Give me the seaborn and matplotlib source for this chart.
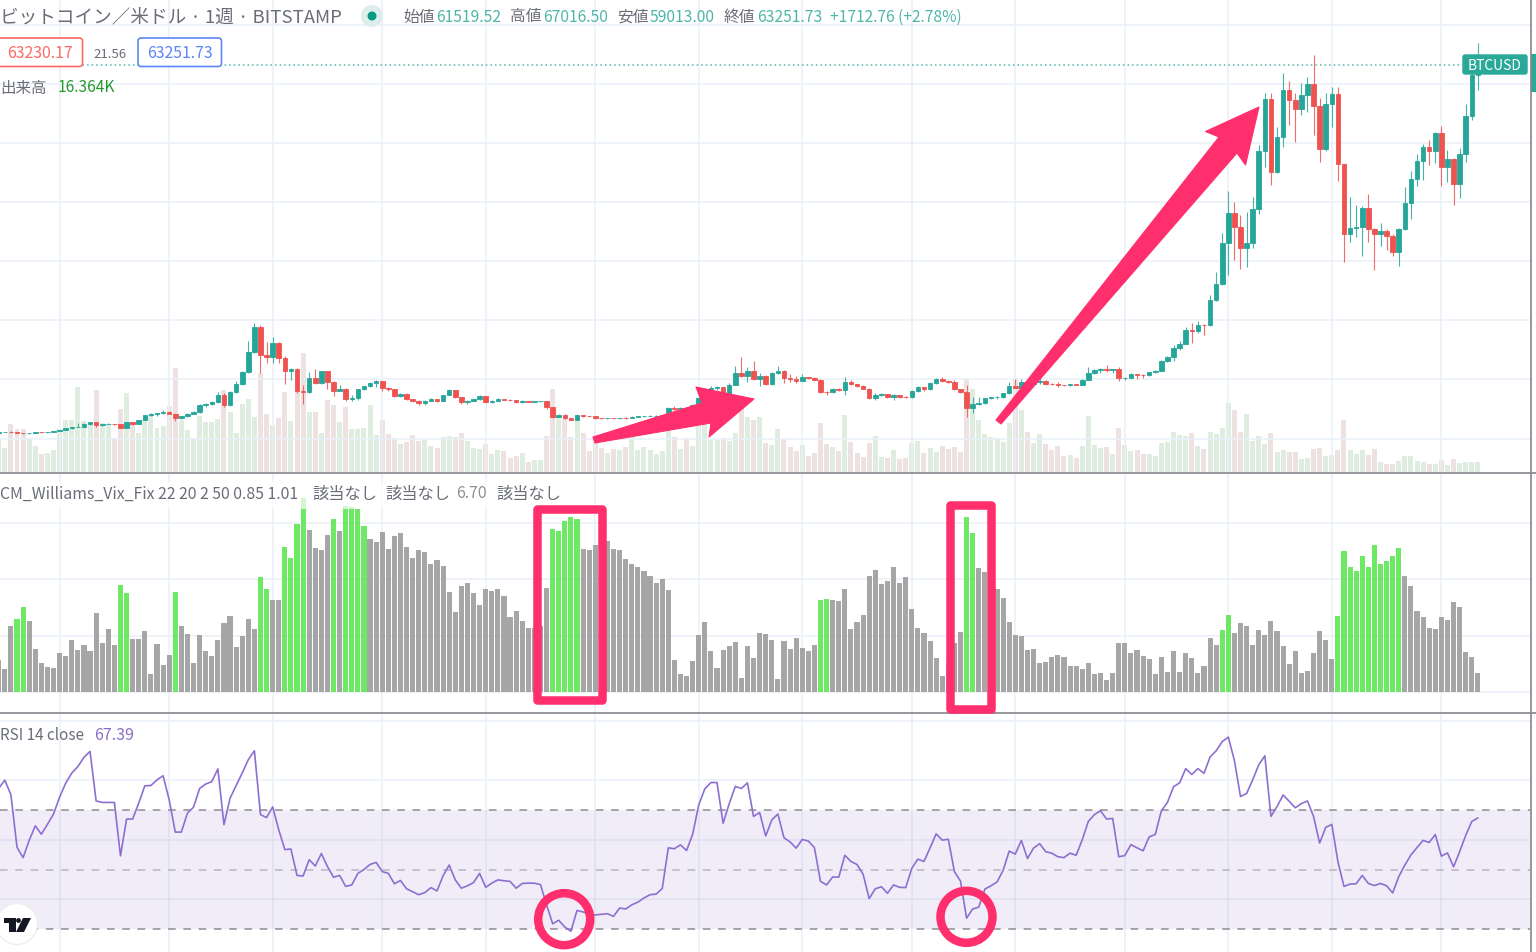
import numpy as np
import pandas as pd
import matplotlib
matplotlib.use("Agg")
import matplotlib.pyplot as plt
from matplotlib.patches import Polygon, Rectangle, Circle, FancyBboxPatch
import seaborn as sns

# weekly BTCUSD candles
first_open = 1000
closes = [
    1060, 1117, 1060, 1004, 891, 948, 1080, 1040, 1130, 1260,
    1470, 1710, 1940, 2030, 2414, 2752, 2301, 2480, 2500, 2430,
    1850, 2752, 2470, 3147, 3993, 4162, 4275, 4557, 4219, 3542,
    3767, 4219, 4500, 5629, 5911, 6193, 7321, 5685, 7941, 9238,
    11212, 14710, 18939, 14146, 13863, 16119, 13582, 11494, 11833, 8054,
    7885, 10310, 9351, 11438, 9576, 8110, 8449, 6644, 6926, 8336,
    8844, 9464, 9690, 8561, 8449, 7208, 7603, 6644, 6418, 6080,
    6362, 6644, 6418, 7377, 8167, 6982, 6193, 6418, 6644, 7208,
    6136, 6418, 6644, 6587, 6475, 6193, 6362, 6249, 6305, 6362,
    5300, 3655, 4050, 3486, 3147, 3937, 3800, 3750, 3486, 3429,
    3460, 3430, 3486, 3470, 3711, 3768, 3824, 3880, 3900, 3937,
    5178, 5065, 5100, 5050, 5685, 6813, 7377, 8618, 8674, 7490,
    9126, 11043, 10592, 11438, 10028, 10592, 9238, 11043, 11494, 10197,
    10140, 9803, 10366, 10253, 9915, 7941, 7828, 8392, 8223, 9520,
    9238, 8956, 8449, 6813, 7377, 7490, 7095, 7377, 7095, 7039,
    8110, 8674, 8336, 9351, 10084, 9803, 9634, 8336, 7941, 5178,
    5854, 5967, 6813, 6982, 7095, 7659, 8900, 8618, 9634, 9238,
    9633, 9746, 9238, 9182, 9069, 9013, 9238, 9125, 9915, 11043,
    11607, 11833, 11607, 11720, 10197, 10310, 10930, 10761, 10705, 11269,
    11494, 13073, 13750, 15385, 15949, 18375, 18206, 19278, 19165, 23450,
    26158, 33039, 38115, 35746, 32193, 33039, 38791, 48655, 57400, 45161,
    50975, 58984, 57287, 55708, 58132, 59937, 56272, 48996, 56554, 58245,
    46403, 34618, 35577, 35802, 39073, 35464, 34674, 35182, 34279, 31629,
    35408, 39806, 43865, 46967, 49280, 48716, 51767, 46013, 47254, 43075,
    48152, 54582, 61519.52, 63251.73,
]
highs = [
    1100, 1150, 1230, 1100, 1010, 1000, 1120, 1100, 1180, 1300,
    1520, 1750, 2000, 2580, 2600, 2830, 2830, 2530, 2600, 2520,
    2440, 2800, 2780, 3220, 4050, 4380, 4400, 4800, 4650, 4250,
    3900, 4300, 4600, 5800, 6100, 6300, 7900, 7800, 8100, 9700,
    11500, 16570, 19620, 19220, 16400, 17250, 16300, 13900, 11900, 11900,
    9070, 11269, 11720, 11490, 11500, 9700, 9125, 8500, 7377, 8400,
    8950, 9600, 9915, 9750, 8700, 8400, 7800, 7650, 6700, 6500,
    6450, 6800, 6700, 7450, 8449, 8250, 7000, 6550, 6750, 7300,
    7250, 6500, 6800, 6700, 6650, 6500, 6450, 6400, 6380, 6420,
    6400, 5350, 4100, 4100, 3550, 4000, 4050, 3850, 3800, 3550,
    3550, 3500, 3550, 3600, 3800, 3850, 3900, 3950, 4000, 4050,
    5350, 5500, 5300, 5300, 5900, 7100, 7650, 8900, 8850, 8700,
    9350, 12300, 13863, 12058, 13186, 11043, 10750, 11200, 12284, 11600,
    10874, 10592, 10874, 10500, 10350, 10000, 8050, 8500, 8500, 10366,
    9915, 9300, 9000, 8500, 7772, 7650, 7500, 7500, 7400, 7250,
    8250, 8950, 8750, 9500, 10300, 10479, 9900, 9915, 8450, 9069,
    7095, 6982, 6900, 7050, 7250, 7750, 9520, 10028, 10000, 9900,
    9800, 10197, 9850, 9350, 9633, 9150, 9300, 9300, 10050, 12058,
    11800, 11950, 12453, 11850, 12058, 10400, 11050, 11000, 10850, 11350,
    11650, 13250, 14000, 15836, 16570, 18939, 19500, 19898, 19400, 24293,
    28243, 34731, 41950, 40087, 37827, 38395, 40934, 49670, 58415, 58500,
    52667, 61804, 60564, 58415, 60106, 61234, 64909, 57569, 58415, 59543,
    59430, 46500, 40934, 39525, 39355, 41386, 35600, 36536, 35400, 34618,
    35700, 42626, 45332, 48095, 49844, 50517, 51936, 52893, 48834, 47400,
    49111, 56612, 62100, 67016.5,
]
lows = [
    1000, 1040, 980, 950, 860, 860, 940, 1000, 1030, 1120,
    1250, 1450, 1700, 1900, 1950, 2340, 2020, 2200, 2400, 2350,
    1770, 1830, 2380, 2400, 3100, 3850, 3900, 4150, 4100, 2978,
    3300, 3700, 4150, 4400, 5400, 5700, 6100, 5400, 5600, 7800,
    9000, 11100, 14500, 11043, 12735, 12735, 12735, 9238, 9915, 7660,
    5854, 7800, 9200, 9200, 8336, 7208, 8000, 6305, 6418, 6531,
    8200, 8700, 8674, 7998, 8000, 7100, 7100, 6450, 6250, 5741,
    5628, 6300, 6200, 6350, 7300, 6800, 5798, 5798, 6350, 6600,
    5980, 5950, 6300, 6480, 6400, 6050, 6100, 6150, 6200, 6250,
    5008, 3429, 3600, 3300, 3100, 3100, 3650, 3650, 3400, 3380,
    3350, 3350, 3400, 3400, 3450, 3650, 3700, 3750, 3800, 3820,
    3950, 4900, 4950, 4900, 5000, 5600, 6700, 7300, 8200, 7300,
    7400, 9000, 10400, 9634, 9850, 8900, 9069, 9100, 10950, 9351,
    9634, 9351, 9700, 10000, 9700, 7659, 7400, 7650, 8000, 7377,
    9100, 8750, 8350, 6644, 6531, 7200, 6900, 6530, 6850, 6850,
    6950, 7900, 8100, 8200, 9200, 9520, 9400, 8200, 7700, 3711,
    4388, 5700, 5800, 6650, 6750, 6950, 7550, 8500, 8350, 9000,
    9100, 9182, 9150, 9000, 8787, 8900, 8950, 9000, 9050, 9900,
    10900, 11156, 11325, 11043, 9802, 9915, 10200, 10084, 10253, 10650,
    11100, 11400, 12960, 13186, 14990, 15949, 16120, 17924, 17530, 19050,
    23338, 25989, 27666, 30215, 28640, 29091, 32193, 37996, 45892, 42905,
    44879, 49275, 53050, 50229, 54750, 55312, 51367, 46856, 48714, 52778,
    43639, 29937, 33321, 34054, 30897, 33208, 28527, 32588, 31911, 30897,
    29204, 35300, 37095, 42739, 43752, 46290, 46572, 42739, 43470, 39525,
    40652, 46856, 53900, 59013,
]
# volume in thousands
volumes = [
    56.1, 38.7, 77.9, 70.9, 70.9, 56.1, 42.5, 29.4, 31.6, 36.5,
    69.8, 85.6, 84.5, 139.5, 83.4, 77.9, 133.5, 80.7, 77.9, 55.0,
    102.5, 129.7, 79.6, 64.3, 86.1, 94.3, 72.5, 74.7, 107.9, 170.0,
    84.5, 69.2, 56.1, 91.6, 81.8, 81.8, 87.2, 133.5, 98.1, 64.3,
    110.6, 118.8, 89.9, 162.4, 94.3, 77.4, 87.7, 131.3, 82.8, 132.4,
    195.1, 98.1, 97.6, 63.2, 118.3, 109.5, 81.8, 106.8, 70.3, 70.3,
    72.5, 109.0, 60.0, 84.5, 61.6, 56.1, 45.2, 49.1, 61.0, 50.1,
    51.8, 42.0, 39.2, 57.2, 58.9, 57.2, 63.2, 50.7, 39.8, 37.1,
    45.8, 29.4, 35.4, 33.8, 23.4, 25.6, 30.5, 16.4, 19.6, 19.6,
    58.9, 136.3, 89.4, 86.7, 57.8, 87.7, 64.3, 34.3, 52.3, 38.7,
    31.6, 37.6, 36.5, 41.4, 61.6, 36.0, 40.9, 36.0, 28.9, 34.3,
    73.0, 57.8, 37.6, 55.0, 42.5, 101.4, 79.6, 52.3, 52.3, 55.0,
    51.2, 63.2, 106.8, 89.4, 85.0, 90.5, 48.0, 44.1, 70.3, 53.4,
    40.3, 34.3, 44.1, 26.2, 30.5, 79.6, 45.8, 41.4, 34.9, 92.7,
    48.5, 30.5, 24.0, 48.0, 59.4, 25.1, 22.3, 36.0, 21.8, 22.9,
    46.9, 51.2, 31.6, 38.7, 33.2, 42.5, 37.6, 41.4, 33.2, 153.1,
    135.2, 84.5, 62.7, 56.7, 55.0, 49.6, 80.7, 153.1, 101.4, 65.9,
    48.0, 61.6, 45.2, 35.4, 42.5, 26.2, 27.2, 23.4, 42.5, 91.6,
    43.6, 39.8, 40.3, 30.0, 71.4, 43.6, 33.8, 35.4, 30.0, 28.9,
    26.2, 46.9, 49.6, 65.9, 60.0, 59.4, 64.3, 42.5, 37.1, 65.9,
    61.6, 71.9, 113.4, 100.8, 65.9, 94.3, 50.7, 59.4, 45.2, 63.2,
    32.7, 35.4, 33.2, 32.2, 21.8, 22.3, 37.1, 39.2, 26.2, 28.3,
    36.5, 84.5, 35.4, 28.9, 36.5, 27.2, 37.1, 16.9, 13.6, 13.6,
    18.0, 26.2, 25.6, 18.0, 15.8, 13.1, 13.1, 19.1, 12.0, 20.7,
    14.7, 15.8, 16.9, 16.364,
]
vix_fix = [
    11.4, 8.2, 23.4, 25.8, 30.0, 25.2, 15.4, 10.5, 8.9, 8.7,
    13.8, 12.8, 18.6, 15.1, 16.6, 14.6, 28.2, 17.6, 22.5, 16.6,
    37.9, 35.2, 18.7, 18.7, 21.6, 6.5, 17.1, 9.5, 13.1, 35.4,
    23.6, 20.6, 10.2, 20.1, 14.6, 12.7, 18.4, 24.5, 27.1, 16.1,
    19.9, 26.0, 22.5, 40.9, 36.4, 32.5, 32.5, 51.2, 47.5, 59.6,
    68.5, 57.3, 51.1, 50.4, 55.6, 61.1, 57.1, 66.0, 65.6, 64.7,
    58.7, 54.1, 53.2, 56.6, 50.6, 55.1, 56.4, 51.3, 47.5, 50.4,
    49.5, 45.2, 46.9, 44.6, 35.6, 28.5, 37.6, 38.7, 35.2, 30.8,
    36.6, 35.9, 36.6, 34.2, 26.5, 28.9, 25.3, 22.8, 22.6, 23.6,
    36.7, 57.6, 57.1, 60.7, 61.8, 61.2, 50.8, 50.2, 52.1, 53.2,
    53.3, 50.5, 50.2, 47.2, 45.2, 44.2, 42.8, 41.1, 38.8, 40.0,
    36.2, 11.6, 6.6, 5.9, 11.2, 20.4, 24.7, 14.5, 8.6, 14.8,
    16.2, 17.8, 5.1, 16.2, 12.0, 21.1, 20.6, 18.5, 4.7, 18.0,
    15.4, 19.3, 15.5, 14.7, 16.9, 32.8, 33.1, 32.7, 32.2, 36.6,
    22.4, 24.9, 27.4, 41.1, 43.4, 38.4, 39.3, 44.2, 38.8, 40.6,
    29.4, 22.8, 21.1, 18.0, 12.0, 5.6, 10.2, 17.4, 21.4, 62.1,
    56.4, 44.0, 42.4, 39.1, 36.5, 33.5, 24.9, 20.4, 19.8, 14.8,
    15.3, 10.4, 10.7, 12.5, 13.3, 12.5, 9.2, 9.4, 8.2, 10.2,
    6.5, 6.7, 4.5, 6.7, 17.3, 17.5, 14.0, 14.8, 12.8, 11.8,
    6.4, 12.5, 7.2, 14.6, 7.2, 14.0, 12.0, 6.7, 9.4, 19.1,
    16.8, 21.9, 27.4, 20.8, 24.5, 23.6, 16.8, 21.9, 20.1, 25.2,
    21.6, 16.4, 9.9, 14.6, 6.9, 7.5, 14.0, 21.6, 18.6, 11.8,
    26.9, 49.8, 44.2, 42.9, 48.2, 44.2, 52.2, 45.3, 46.5, 48.2,
    51.1, 41.2, 37.6, 28.7, 26.7, 22.7, 22.4, 26.5, 25.5, 32.0,
    30.0, 14.2, 12.5, 6.7,
]
# weeks where the vix fix bar is lime
vix_signal_weeks = [3, 4, 20, 21, 29, 43, 44, 47, 48, 49, 50, 55, 57, 58, 59, 60,
                    91, 92, 93, 94, 95, 135, 136, 159, 160, 201, 202,
                    220, 221, 222, 223, 224, 225, 226, 227, 228, 229, 230]
rsi = [
    77.4, 80.1, 75.2, 57.5, 54.0, 59.8, 64.7, 61.9, 65.2, 68.7,
    74.4, 79.1, 82.5, 84.7, 87.8, 89.8, 73.1, 72.6, 72.6, 72.6,
    54.6, 67.0, 67.0, 72.4, 78.2, 78.3, 80.2, 81.6, 73.5, 62.6,
    62.6, 69.0, 71.0, 77.3, 78.8, 79.6, 83.9, 65.1, 74.0, 78.3,
    82.5, 87.0, 90.0, 68.5, 67.5, 71.1, 63.4, 56.7, 56.9, 48.0,
    47.8, 53.3, 51.2, 55.4, 51.0, 47.4, 48.0, 44.3, 44.8, 48.7,
    50.0, 51.7, 52.4, 49.3, 48.7, 45.2, 46.3, 43.5, 42.5, 41.5,
    42.2, 43.9, 42.8, 47.9, 51.5, 46.5, 43.7, 44.5, 45.6, 48.7,
    44.0, 45.4, 46.5, 46.2, 46.0, 43.7, 45.3, 45.4, 45.4, 44.9,
    38.1, 31.7, 32.9, 30.6, 29.2, 36.2, 35.7, 34.9, 34.7, 34.9,
    35.1, 34.2, 37.0, 36.7, 38.1, 39.0, 40.4, 41.5, 41.7, 43.6,
    57.3, 57.0, 58.3, 56.4, 61.9, 71.8, 77.2, 79.3, 79.3, 65.6,
    72.1, 78.0, 77.3, 79.2, 67.9, 69.2, 61.3, 66.7, 68.7, 60.7,
    59.3, 57.2, 60.1, 59.6, 57.4, 46.0, 44.8, 47.5, 47.4, 54.8,
    52.7, 51.7, 48.4, 40.2, 43.5, 44.2, 42.0, 44.8, 44.0, 43.9,
    50.4, 53.5, 52.7, 57.3, 62.0, 59.9, 60.2, 49.3, 46.1, 33.6,
    36.7, 37.3, 43.4, 44.5, 45.8, 49.7, 56.2, 55.2, 59.8, 53.7,
    57.2, 58.7, 56.0, 55.5, 54.3, 54.0, 55.5, 54.8, 60.0, 66.2,
    68.5, 69.8, 67.0, 67.2, 54.3, 54.7, 58.4, 57.3, 56.3, 61.0,
    61.8, 69.8, 72.6, 77.9, 79.2, 84.0, 82.0, 84.0, 82.4, 87.9,
    90.0, 93.1, 94.6, 86.7, 74.6, 75.6, 80.2, 85.3, 88.3, 67.9,
    71.2, 75.1, 73.0, 70.8, 72.2, 73.1, 67.9, 58.9, 64.2, 65.2,
    52.7, 44.3, 45.1, 45.2, 48.0, 45.3, 44.6, 45.3, 44.5, 42.1,
    47.6, 51.5, 54.9, 57.4, 59.8, 59.1, 61.8, 54.5, 55.6, 50.9,
    56.0, 61.5, 66.2, 67.39,
]
# time grid sits on these weeks
time_grid_weeks = [10, 28, 45, 63, 80, 98, 115, 132, 150, 167, 185, 202, 219, 237]
price_grid = [0, 10000, 20000, 30000, 40000, 50000, 60000, 70000]
vix_grid = [0, 20, 40, 60]
rsi_grid = [40, 60, 80, 100]

W, H = 1536, 952
XLIM = (0.207, 251.56)
UP, DOWN = "#26a69a", "#ef5350"
GRID = "#e8f0f7"
PINK = "#ff2e6c"
TXT = "#6a6d78"

sns.set_theme(style="white")
plt.rcParams["font.family"] = ["Noto Sans CJK JP", "DejaVu Sans"]

weeks = np.arange(len(closes))
df = pd.DataFrame({"week": weeks, "close": closes, "high": highs, "low": lows,
                   "volume": volumes, "vix": vix_fix, "rsi": rsi})
df["open"] = [first_open] + closes[:-1]
df.loc[df.index[-1], "open"] = 61519.52
df["dir"] = np.where(df["close"] >= df["open"], "up", "down")
df["signal"] = np.where(df["week"].isin(vix_signal_weeks), "on", "off")

fig = plt.figure(figsize=(W / 100, H / 100), dpi=100, facecolor="white")


def pane(top, bottom):
    return fig.add_axes([0, 1 - bottom / H, 1530 / W, (bottom - top) / H])


def style_axes(ax, ygrid):
    ax.set_xlim(*XLIM)
    ax.set_xlabel("")
    ax.set_ylabel("")
    ax.set_xticks(time_grid_weeks)
    ax.set_yticks(ygrid)
    ax.set_xticklabels([])
    ax.set_yticklabels([])
    ax.tick_params(length=0)
    ax.grid(True, color=GRID, linewidth=1.1)
    ax.set_axisbelow(True)
    for s in ax.spines.values():
        s.set_visible(False)


# price pane, volume goes underneath on its own scale
ax_vol = pane(0, 472)
sns.barplot(data=df, x="week", y="volume", hue="dir", native_scale=True, dodge=False,
            palette={"up": "#2f9e40", "down": "#9b3a3a"}, alpha=0.16, width=0.82,
            errorbar=None, legend=False, linewidth=0, ax=ax_vol)
ax_vol.set_ylim(0, 771.7)
ax_vol.set_xlim(*XLIM)
ax_vol.axis("off")

ax = pane(0, 472)
ax.patch.set_alpha(0)
colors = df["dir"].map({"up": UP, "down": DOWN})
ax.vlines(df["week"], df["low"], df["high"], colors=colors, linewidth=0.8, alpha=0.85)
ax.bar(df["week"], df["close"] - df["open"], bottom=df["open"], width=0.75,
       color=colors, edgecolor=colors, linewidth=0.6)
ax.set_ylim(-5651, 74210)
style_axes(ax, price_grid)

# williams vix fix pane
ax_vix = pane(473, 713)
sns.barplot(data=df, x="week", y="vix", hue="signal", native_scale=True, dodge=False,
            palette={"on": "#45ff36", "off": "#9a9a9a"}, alpha=0.88, width=0.84,
            errorbar=None, legend=False, linewidth=0, ax=ax_vix)
ax_vix.set_ylim(-7.3, 77.5)
style_axes(ax_vix, vix_grid)

# rsi pane
ax_rsi = pane(714, 952)
ax_rsi.axhspan(30, 70, color="#7e57c2", alpha=0.1, linewidth=0)
ax_rsi.axhline(70, color="#8f8c96", linewidth=1.1, dashes=(5, 5))
ax_rsi.axhline(50, color="#b9b5c1", linewidth=1.1, dashes=(5, 5))
ax_rsi.axhline(30, color="#8f8c96", linewidth=1.1, dashes=(5, 5))
sns.lineplot(data=df, x="week", y="rsi", color="#8d6fd1", linewidth=1.2, ax=ax_rsi)
ax_rsi.set_ylim(22.2, 102.4)
style_axes(ax_rsi, rsi_grid)

# everything else is placed in screen pixels
ov = fig.add_axes([0, 0, 1, 1])
ov.set_xlim(0, W)
ov.set_ylim(H, 0)
ov.axis("off")
ov.patch.set_alpha(0)

ov.plot([0, W], [472.7, 472.7], color="#85858c", lw=1.2)
ov.plot([0, W], [713, 713], color="#85858c", lw=1.2)
ov.plot([1530.5, 1530.5], [0, H], color="#85858c", lw=1.2)

# last price line and tag
ov.plot([0, 1462], [65, 65], color=UP, lw=1.1, ls=(0, (1, 2)), alpha=0.8)
ov.add_patch(FancyBboxPatch((1463, 55), 64, 19, boxstyle="round,pad=0,rounding_size=2",
                            fc="#2aa898", ec="#2aa898", lw=1, zorder=3))
ov.add_patch(Rectangle((1531, 54), 5, 38, fc="#2aa898", ec="none"))
ov.text(1495, 66, "BTCUSD", color="white", fontsize=10, ha="center", va="center", zorder=4)

# legend haze on the vix pane
ov.add_patch(Rectangle((0, 482), 560, 27, fc="white", ec="none", alpha=0.7))


def label(x, y, s, color=TXT, size=10.5, **kw):
    ov.text(x, y + 1, s, color=color, fontsize=size, ha="left", va="center", **kw)


label(0, 16, "ビットコイン／米ドル · 1週 · BITSTAMP", size=13.4)
ov.add_patch(Circle((372, 16), 11, fc="#dcefec", ec="none"))
ov.add_patch(Circle((372, 16), 4.5, fc="#089981", ec="none"))

VAL = "#4db6a8"
for x_name, name, x_val, val in [(403, "始値", 436, "61519.52"), (510, "高値", 543, "67016.50"),
                                 (617, "安値", 650, "59013.00"), (724, "終値", 757, "63251.73")]:
    label(x_name, 16, name, size=11.3)
    label(x_val, 16, val, color=VAL, size=11.3)
label(830, 16, "+1712.76 (+2.78%)", color=VAL, size=11.2)

for x0, w, edge, txt in [(-8, 90.5, "#fb6a62", "63230.17"), (138, 83.5, "#5b86f5", "63251.73")]:
    ov.add_patch(FancyBboxPatch((x0, 38), w, 28.5, boxstyle="round,pad=0,rounding_size=3",
                                fc="white", ec=edge, lw=1.2, zorder=3))
    ov.text(x0 + w - 42 if x0 > 0 else 40, 54, txt, color=edge, fontsize=11.4, ha="center",
            va="center", zorder=4)
label(93, 53, "21.56", size=9.5)
label(0, 87, "出来高", size=11.2)
label(58, 87, "16.364K", color="#229a2e", size=11.2)

label(0, 493, "CM_Williams_Vix_Fix 22 20 2 50 0.85 1.01", size=11.4)
label(312, 493, "該当なし", size=11.7)
label(385, 493, "該当なし", size=11.7)
label(456, 493, "6.70", color="#8f8f94", size=11.4)
label(496, 493, "該当なし", size=11.7)
label(0, 734, "RSI 14 close", size=11)
label(94, 734, "67.39", color="#8a6fc9", size=11.5)

# tradingview badge
ov.add_patch(Circle((17, 924), 20.5, fc="white", ec="#eeeeee", lw=1))
ov.add_patch(Polygon([(3.5, 918), (15.5, 918), (15.5, 932), (9, 932), (9, 923), (3.5, 923)], fc="#131722", ec="none"))
ov.add_patch(Circle((18.5, 920.5), 2.4, fc="#131722", ec="none"))
ov.add_patch(Polygon([(23, 918), (31, 918), (24, 932), (16, 932)], fc="#131722", ec="none"))

# hand drawn marks on top of the screenshot
ov.add_patch(Polygon([(593, 437), (702, 403), (696, 387), (754, 399), (709, 437), (711, 423), (595, 443)],
                     fc=PINK, ec=PINK, lw=0.8, joinstyle="round", zorder=6))
ov.add_patch(Polygon([(996, 420), (1219, 137), (1205.5, 131.5), (1259, 107), (1245.5, 165), (1237, 153), (1001, 424)],
                     fc=PINK, ec=PINK, lw=0.8, joinstyle="round", zorder=6))
frame_lw = 8.5 * 0.72
ov.add_patch(Rectangle((537, 508.7), 65, 191.3, fc="none", ec=PINK, lw=frame_lw, joinstyle="round", zorder=6))
ov.add_patch(Rectangle((950.3, 505), 40.5, 204, fc="none", ec=PINK, lw=frame_lw, joinstyle="round", zorder=6))
ov.add_patch(Circle((564.2, 919.2), 26, fc="none", ec=PINK, lw=frame_lw, zorder=6))
ov.add_patch(Circle((966.5, 916.8), 26, fc="none", ec=PINK, lw=frame_lw, zorder=6))

fig.savefig("out.png", dpi=100)
plt.close(fig)
